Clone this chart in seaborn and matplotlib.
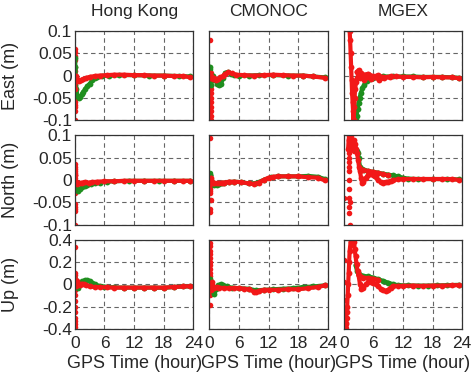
import matplotlib
matplotlib.use("Agg")
import matplotlib.pyplot as plt
import seaborn as sns

sns.set_theme(style="white")
plt.rcParams["font.family"] = ["Liberation Sans", "DejaVu Sans"]

# ---------- labels ------------------------------------------------ #
networks   = ["Hong Kong", "CMONOC", "MGEX"]
components = ["East (m)", "North (m)", "Up (m)"]
x_ticks    = [0, 6, 12, 18, 24]
x_labels   = ["0", "6", "12", "18", "24"]
en_ticks   = [-0.1, -0.05, 0, 0.05, 0.1]
en_labels  = ["-0.1", "-0.05", "0", "0.05", "0.1"]
up_ticks   = [-0.4, -0.2, 0, 0.2, 0.4]
up_labels  = ["-0.4", "-0.2", "0", "0.2", "0.4"]

# ---------- Hong Kong --------------------------------------------- #
hk_e_green_t = [0.05, 0.1, 0.2, 0.3, 0.5, 0.8, 1.1, 1.4, 1.7, 2.1, 2.5, 3.0, 3.5, 4.0, 4.5, 5.5, 7, 9, 12, 15, 18, 21, 23.4]
hk_e_green_v = [0.04, 0.02, -0.01, -0.03, -0.045, -0.05, -0.048, -0.042, -0.037, -0.03, -0.024, -0.018, -0.011, -0.006, -0.003, -0.001, 0.0, 0.001, 0.001, 0.0, 0.0, -0.001, -0.002]
hk_e_red_t   = [0.05, 0.1, 0.2, 0.35, 0.5, 0.8, 1.2, 1.7, 2.3, 3.0, 4.0, 5.0, 6.5, 8, 10, 12, 14, 16, 18, 20, 22, 23.4]
hk_e_red_v   = [-0.03, -0.01, 0.0, -0.008, -0.012, -0.012, -0.01, -0.008, -0.005, -0.003, -0.001, 0.0, 0.001, 0.002, 0.002, 0.001, 0.001, 0.0, 0.0, -0.001, -0.001, -0.004]
hk_e_dot_t   = [0.05, 0.05, 0.05, 0.05, 0.05, 0.1, 0.1, 0.1, 0.1, 0.1, 0.1, 0.05, 0.05, 0.05, 0.05, 0.05, 0.05, 0.05]
hk_e_dot_v   = [0.06, 0.052, 0.045, 0.035, 0.02, 0.01, -0.02, -0.03, -0.035, -0.04, -0.045, -0.05, -0.055, -0.06, -0.065, -0.07, -0.08, -0.1]

hk_n_green_t = [0.1, 0.3, 0.6, 1.0, 1.5, 2.0, 2.5, 3.2, 4.0, 5.0, 6.5, 8, 11, 14, 17, 20, 23.4]
hk_n_green_v = [-0.005, -0.02, -0.025, -0.02, -0.016, -0.013, -0.011, -0.009, -0.008, -0.006, -0.004, -0.003, -0.002, -0.002, -0.002, -0.002, -0.002]
hk_n_red_t   = [0.1, 0.2, 0.4, 0.7, 1.0, 1.5, 2.0, 2.8, 3.5, 4.5, 6, 8, 10, 12, 14, 16, 18, 20, 22, 23.4]
hk_n_red_v   = [0.01, -0.005, -0.01, -0.006, -0.008, -0.006, -0.005, -0.006, -0.005, -0.004, -0.003, -0.003, -0.002, -0.002, -0.002, -0.002, -0.002, -0.002, -0.002, -0.002]
hk_n_dot_t   = [0.05, 0.05, 0.05, 0.05, 0.1, 0.1, 0.1, 0.1, 0.2, 0.2, 0.2, 0.05, 0.05, 0.05, 0.05, 0.05, 0.05]
hk_n_dot_v   = [0.035, 0.03, 0.025, 0.02, 0.015, 0.01, 0.005, 0.0, -0.01, -0.02, -0.025, -0.03, -0.055, -0.06, -0.065, -0.07, -0.1]

hk_u_green_t = [0.1, 0.3, 0.6, 1.0, 1.5, 2.0, 2.5, 3.0, 3.5, 4.0, 5.0, 6.0, 8, 10, 12, 14, 16, 18, 20, 22, 23.4]
hk_u_green_v = [0.05, 0.0, -0.03, 0.0, 0.025, 0.035, 0.035, 0.03, 0.015, 0.0, -0.015, -0.022, -0.028, -0.03, -0.03, -0.03, -0.03, -0.032, -0.025, -0.02, -0.02]
hk_u_red_t   = [0.1, 0.2, 0.4, 0.7, 1.0, 1.4, 1.8, 2.3, 3.0, 4.0, 5.0, 6.5, 8, 10, 12, 14, 16, 18, 20, 22, 23.4]
hk_u_red_v   = [0.05, -0.02, 0.03, 0.0, -0.01, 0.005, 0.0, -0.01, -0.02, -0.025, -0.025, -0.028, -0.03, -0.03, -0.03, -0.03, -0.03, -0.03, -0.025, -0.02, -0.018]
hk_u_dot_t   = [0.05, 0.05, 0.05, 0.05, 0.05, 0.05, 0.05, 0.05, 0.05, 0.05, 0.05, 0.05, 0.05, 0.05]
hk_u_dot_v   = [0.33, 0.1, 0.08, 0.05, 0.0, -0.05, -0.1, -0.15, -0.2, -0.25, -0.3, -0.33, -0.36, -0.38]

# ---------- CMONOC ------------------------------------------------ #
cm_e_green_t = [0.05, 0.15, 0.3, 0.5, 0.8, 1.2, 1.6, 2.0, 2.4, 2.8, 3.2, 3.7, 4.3, 5, 6, 8, 10, 13, 16, 19, 21, 23.4]
cm_e_green_v = [0.02, 0.0, -0.02, -0.01, 0.0, -0.01, -0.018, -0.022, -0.018, -0.005, 0.006, 0.008, 0.004, 0.001, 0.0, 0.0, 0.001, 0.001, 0.0, 0.0, -0.002, -0.004]
cm_e_red_t   = [0.1, 0.2, 0.4, 0.7, 1.0, 1.4, 1.8, 2.2, 2.7, 3.2, 3.8, 4.5, 5.5, 7, 9, 11, 13, 15, 17, 19, 21, 23.4]
cm_e_red_v   = [0.005, -0.005, 0.0, -0.008, -0.005, -0.01, -0.008, -0.004, -0.002, 0.004, 0.007, 0.005, 0.002, 0.001, 0.0, 0.001, 0.002, 0.001, 0.0, 0.0, -0.002, -0.005]
cm_e_dot_t   = [0.1, 0.3, 0.3, 0.3, 0.3, 0.3, 0.3, 0.3, 0.3, 0.3, 0.3, 0.3]
cm_e_dot_v   = [0.08, 0.005, -0.01, -0.02, -0.03, -0.04, -0.05, -0.06, -0.07, -0.08, -0.09, -0.1]
cm_e_gdot_t  = [0.1, 0.1, 0.1, 0.1]
cm_e_gdot_v  = [0.015, 0.01, -0.08, -0.1]

cm_n_green_t = [0.05, 0.2, 0.4, 0.7, 1.0, 1.5, 2.0, 2.5, 3.0, 4, 5, 6.5, 8, 9.5, 11, 12.5, 14, 16, 18, 20, 22, 23.4]
cm_n_green_v = [0.012, 0.01, 0.0, -0.008, -0.012, -0.012, -0.01, -0.008, -0.007, -0.005, -0.004, -0.005, -0.008, -0.007, 0.0, 0.006, 0.008, 0.008, 0.008, 0.009, 0.007, 0.002]
cm_n_red_t   = [0.1, 0.2, 0.4, 0.7, 1.0, 1.5, 2.0, 2.5, 3.0, 4, 5, 6.5, 8, 9, 10, 11, 12, 13, 14, 16, 18, 20, 22, 23.4]
cm_n_red_v   = [0.0, -0.01, 0.005, -0.008, -0.006, -0.008, -0.007, -0.006, -0.006, -0.004, -0.004, -0.005, -0.008, -0.009, -0.006, 0.0, 0.005, 0.007, 0.008, 0.008, 0.008, 0.006, 0.005, -0.001]
cm_n_dot_t   = [0.05, 0.2, 0.2, 0.2, 0.2, 0.2, 0.2, 0.2, 0.4, 0.2, 0.2]
cm_n_dot_v   = [0.093, 0.005, -0.005, -0.01, -0.015, -0.02, -0.025, -0.03, -0.045, -0.065, -0.072]
cm_n_gdot_t  = [0.05, 0.1, 0.1]
cm_n_gdot_v  = [0.015, 0.01, -0.045]

cm_u_green_t = [0.1, 0.4, 0.7, 1.0, 1.4, 1.8, 2.3, 2.8, 3.5, 4.5, 6, 8, 9.5, 11, 13, 15, 17, 19, 21, 23.4]
cm_u_green_v = [0.05, -0.02, -0.06, -0.09, -0.04, -0.01, 0.0, -0.01, -0.02, -0.03, -0.035, -0.04, -0.055, -0.05, -0.045, -0.04, -0.035, -0.025, -0.02, -0.01]
cm_u_red_t   = [0.1, 0.3, 0.6, 1.0, 1.5, 2.0, 3.0, 4.0, 5.0, 6.0, 7.0, 8.0, 9.0, 9.5, 10, 11, 12, 14, 16, 18, 20, 22, 23.4]
cm_u_red_v   = [0.0, -0.05, 0.02, -0.03, -0.025, -0.03, -0.035, -0.035, -0.035, -0.035, -0.04, -0.045, -0.065, -0.07, -0.06, -0.05, -0.05, -0.05, -0.045, -0.045, -0.035, -0.025, -0.01]
cm_u_dot_t   = [0.05, 0.05, 0.05, 0.05, 0.05, 0.05, 0.05, 0.05, 0.1, 0.1, 0.1, 0.1, 0.2, 0.2, 0.2, 0.05]
cm_u_dot_v   = [0.37, 0.34, 0.3, 0.27, 0.24, 0.2, 0.17, 0.14, 0.1, 0.07, 0.04, 0.0, -0.04, -0.08, -0.1, -0.19]

# ---------- MGEX -------------------------------------------------- #
mg_e_green_t = [2.4, 2.6, 2.8, 3.0, 3.2, 3.5, 3.8, 4.2, 4.7, 5.3, 6, 7, 8, 10, 12, 14, 16, 18, 20, 22, 23.4]
mg_e_green_v = [-0.1, -0.09, -0.075, -0.062, -0.05, -0.038, -0.028, -0.02, -0.013, -0.008, -0.005, -0.003, -0.002, -0.002, -0.002, -0.002, -0.003, -0.003, -0.003, -0.004, -0.005]
mg_e_red_t   = [1.2, 1.3, 1.4, 1.5, 1.6, 1.7, 1.8, 1.9, 2.0, 2.1, 2.2, 2.3, 2.5, 2.7, 3.0, 3.3, 3.7, 4.2, 4.8, 5.5, 6.3, 7.2, 8.2, 9.3, 10.5, 12, 14, 16, 18, 20, 22, 23.3]
mg_e_red_v   = [0.1, 0.08, 0.05, 0.02, -0.01, -0.04, -0.06, -0.08, -0.1, -0.07, -0.05, -0.03, -0.015, -0.005, 0.002, -0.006, 0.0, -0.01, -0.004, -0.008, -0.003, -0.01, -0.005, -0.004, -0.002, -0.003, -0.003, -0.004, -0.003, -0.004, -0.004, -0.006]
mg_e_red2_t  = [2.6, 3.0, 3.5, 4.0, 5, 6, 7, 8, 9.5]
mg_e_red2_v  = [0.008, 0.012, 0.006, 0.002, 0.004, -0.002, 0.001, -0.004, -0.002]

mg_n_green_t = [2.6, 2.8, 3.0, 3.3, 3.7, 4.2, 5, 6, 7, 8, 9, 10, 11, 12, 13, 15, 18, 21, 23.4]
mg_n_green_v = [0.065, 0.06, 0.05, 0.03, 0.024, 0.022, 0.02, 0.018, 0.016, 0.014, 0.012, 0.01, 0.008, 0.005, 0.003, 0.002, 0.002, 0.002, 0.001]
mg_n_red_t   = [0.9, 1.0, 1.1, 1.2, 1.3, 1.5, 1.7, 1.9, 2.1, 2.3, 2.5, 2.7, 2.9, 3.1, 3.3, 3.5, 3.7, 4.0, 4.5, 5, 5.5, 6, 6.5, 7, 7.5, 8, 8.5, 9, 9.5, 10, 11, 12, 14, 16, 18, 20, 22, 23.3]
mg_n_red_v   = [0.07, 0.09, 0.1, 0.095, 0.085, 0.1, 0.09, 0.075, 0.09, 0.08, 0.07, 0.06, 0.045, 0.03, 0.02, 0.005, -0.006, -0.005, 0.005, 0.012, 0.015, 0.012, 0.006, 0.0, -0.005, -0.006, -0.005, -0.004, -0.002, 0.0, 0.001, 0.002, 0.002, 0.002, 0.002, 0.002, 0.002, 0.0]
mg_n_red2_t  = [3.3, 4, 5, 6, 7, 8, 9]
mg_n_red2_v  = [0.025, 0.022, 0.02, 0.018, 0.016, 0.013, 0.01]
mg_n_dot_t   = [0.05, 1.1, 1.1, 1.1, 1.0, 1.0, 1.0, 1.1, 1.1, 1.2, 1.1, 1.1, 1.2, 1.6, 2.0, 1.4, 1.8]
mg_n_dot_v   = [-0.04, 0.06, 0.05, 0.04, 0.03, 0.02, 0.0, -0.02, -0.04, -0.05, -0.06, -0.075, -0.1, 0.07, 0.065, 0.075, 0.08]

mg_u_green_t = [2.4, 2.7, 3.0, 3.4, 4, 5, 6, 7, 8, 9, 10, 11, 13, 15, 17, 19, 21, 23.4]
mg_u_green_v = [0.17, 0.12, 0.09, 0.08, 0.075, 0.07, 0.06, 0.045, 0.03, 0.015, 0.0, -0.008, -0.01, -0.012, -0.012, -0.01, -0.008, -0.005]
mg_u_red_t   = [0.2, 0.3, 0.4, 0.5, 0.6, 0.7, 0.8, 0.9, 1.0, 1.1, 1.2, 1.4, 1.6, 1.8, 2.0, 2.2, 2.4, 2.6, 2.8, 3.0, 3.3, 3.6, 4.0, 4.5, 5, 5.5, 6, 6.5, 7, 7.5, 8, 8.5, 9, 9.5, 10, 11, 12, 14, 16, 18, 20, 22, 23.3]
mg_u_red_v   = [-0.4, -0.38, -0.35, -0.3, -0.25, -0.2, -0.1, 0.0, 0.1, 0.2, 0.3, 0.38, 0.4, 0.35, 0.38, 0.32, 0.25, 0.18, 0.12, 0.08, 0.0, -0.04, -0.03, 0.0, 0.02, 0.02, 0.01, 0.0, -0.02, -0.04, -0.055, -0.06, -0.05, -0.03, -0.015, -0.015, -0.015, -0.012, -0.015, -0.012, -0.012, -0.01, -0.008]
mg_u_red2_t  = [3.0, 3.5, 4, 5, 6, 7]
mg_u_red2_v  = [0.08, 0.065, 0.06, 0.055, 0.05, 0.04]
mg_u_dot_t   = [0.05, 0.05, 0.05, 0.1, 0.2, 0.3, 0.4, 0.5, 0.6]
mg_u_dot_v   = [0.22, 0.02, -0.14, -0.39, -0.37, -0.33, -0.39, -0.36, -0.3]

GREEN = "#1f8f1f"
RED   = "#f21818"

panels = [
    # row 0: East
    [dict(g=(hk_e_green_t, hk_e_green_v), r=[(hk_e_red_t, hk_e_red_v)], d=(hk_e_dot_t, hk_e_dot_v)),
     dict(g=(cm_e_green_t, cm_e_green_v), r=[(cm_e_red_t, cm_e_red_v)], d=(cm_e_dot_t, cm_e_dot_v), gd=(cm_e_gdot_t, cm_e_gdot_v)),
     dict(g=(mg_e_green_t, mg_e_green_v), r=[(mg_e_red_t, mg_e_red_v), (mg_e_red2_t, mg_e_red2_v)])],
    # row 1: North
    [dict(g=(hk_n_green_t, hk_n_green_v), r=[(hk_n_red_t, hk_n_red_v)], d=(hk_n_dot_t, hk_n_dot_v)),
     dict(g=(cm_n_green_t, cm_n_green_v), r=[(cm_n_red_t, cm_n_red_v)], d=(cm_n_dot_t, cm_n_dot_v), gd=(cm_n_gdot_t, cm_n_gdot_v)),
     dict(g=(mg_n_green_t, mg_n_green_v), r=[(mg_n_red_t, mg_n_red_v), (mg_n_red2_t, mg_n_red2_v)], d=(mg_n_dot_t, mg_n_dot_v))],
    # row 2: Up
    [dict(g=(hk_u_green_t, hk_u_green_v), r=[(hk_u_red_t, hk_u_red_v)], d=(hk_u_dot_t, hk_u_dot_v)),
     dict(g=(cm_u_green_t, cm_u_green_v), r=[(cm_u_red_t, cm_u_red_v)], d=(cm_u_dot_t, cm_u_dot_v)),
     dict(g=(mg_u_green_t, mg_u_green_v), r=[(mg_u_red_t, mg_u_red_v), (mg_u_red2_t, mg_u_red2_v)], d=(mg_u_dot_t, mg_u_dot_v))],
]


def trace(ax, t, v, color):
    sns.lineplot(x=t, y=v, estimator=None, sort=False, color=color, lw=3.0,
                 marker="o", markersize=4.2, markeredgewidth=0, ax=ax)


def dots(ax, t, v, color):
    sns.scatterplot(x=t, y=v, color=color, s=16, linewidth=0, ax=ax)


fig, axes = plt.subplots(3, 3, figsize=(4.74, 3.78), dpi=100)
fig.subplots_adjust(left=0.158, right=0.975, top=0.918, bottom=0.130,
                    wspace=0.135, hspace=0.17)

for i in range(3):
    for j in range(3):
        ax = axes[i, j]
        p = panels[i][j]
        trace(ax, *p["g"], GREEN)
        if "gd" in p:
            dots(ax, *p["gd"], GREEN)
        for rt, rv in p["r"]:
            trace(ax, rt, rv, RED)
        if "d" in p:
            dots(ax, *p["d"], RED)

        ax.set_xlim(0, 24)
        ax.set_xticks(x_ticks)
        if i < 2:
            ax.set_ylim(-0.1, 0.1)
            ax.set_yticks(en_ticks)
            ax.set_yticklabels(en_labels)
        else:
            ax.set_ylim(-0.4, 0.4)
            ax.set_yticks(up_ticks)
            ax.set_yticklabels(up_labels)
        if i == 2:
            ax.set_xticklabels(x_labels)
            ax.set_xlabel("GPS Time (hour)", fontsize=13, labelpad=3)
        else:
            ax.set_xticklabels([])
        if j == 0:
            ax.set_ylabel(components[i], fontsize=13)
            ax.yaxis.set_label_coords(-0.47, 0.5)
        else:
            ax.set_yticklabels([])
        if i == 0:
            ax.set_title(networks[j], fontsize=12.5, pad=11)

        ax.set_axisbelow(True)
        ax.grid(True, color="#666666", linestyle=(0, (4, 3)), lw=0.8)
        ax.tick_params(direction="in", length=2, labelsize=12.5, pad=2, color="#333333")
        ax.tick_params(axis="x", pad=5)
        for s in ax.spines.values():
            s.set_color("#333333")
            s.set_linewidth(0.9)

fig.savefig("out.png", dpi=100)
